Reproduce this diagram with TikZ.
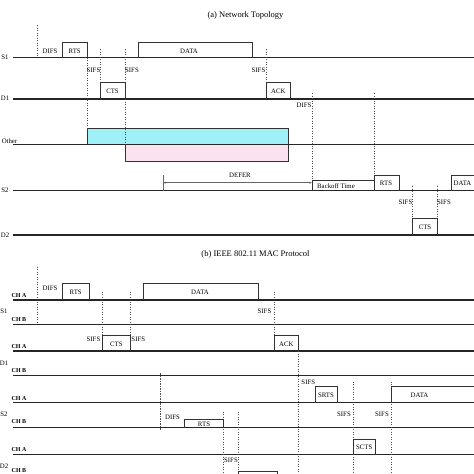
\documentclass[tikz,border=0pt]{standalone}
\usepackage{fontspec}
\setmainfont{Liberation Serif}
\usetikzlibrary{arrows.meta}
\definecolor{cyanfill}{RGB}{160,240,248}
\definecolor{pinkfill}{RGB}{250,226,240}
\tikzset{
  axisln/.style={line width=1.1pt, black!85},
  pkt/.style={draw=black!80, line width=0.6pt},
  guide/.style={draw=black!70, dash pattern=on 1.2pt off 1.3pt, line width=0.55pt},
  lbl/.style={font=\fontsize{6.8}{7}\selectfont, inner sep=0pt},
  chl/.style={font=\fontsize{6}{6}\selectfont\bfseries, inner sep=0pt},
  ttl/.style={font=\fontsize{8.5}{9}\selectfont, inner sep=0pt},
}
\begin{document}
\begin{tikzpicture}[x=1pt,y=-1pt]
\useasboundingbox (0,0) rectangle (474,474);
\clip (0,0) rectangle (474,474);

% ================= (a) =================
\node[ttl] (ta) at (245.5,15) {(a) Network Topology};

% shaded boxes of Other
\draw[pkt, fill=cyanfill] (87,144.3) rectangle (288.3,128.7);
\draw[pkt, fill=pinkfill] (125,144.3) rectangle (288.3,161.7);

% axis lines
\foreach \nm/\yy in {aS1/57.5, aD1/99, aOt/144.3, aS2/190.7, aD2/235}
  \draw[axisln] (13,\yy) coordinate (\nm) -- (474,\yy);
\node[lbl] (laS1) at (5,57.5) {S1};
\node[lbl] (laD1) at (5,98.5) {D1};
\node[lbl] (laOt) at (9.5,141) {Other};
\node[lbl] (laS2) at (5,190.5) {S2};
\node[lbl] (laD2) at (5,235) {D2};

% guides
\draw[guide] (37.5,25) -- (37.5,57.5);
\draw[guide] (87,57.5) -- (87,128.7);
\draw[guide] (100,49) -- (100,99);
\draw[guide] (125,49) -- (125,144.3);
\draw[guide] (266,49) -- (266,99);
\draw[guide] (312,93) -- (312,180.3);
\draw[guide] (374,93) -- (374,175);
\draw[guide] (412.7,186) -- (412.7,235);
\draw[guide] (437.3,186) -- (437.3,235);

% packets
\draw[pkt] (62.3,57.5) |- (87,42) -- (87,57.5);
\draw[pkt] (100,99) |- (125,82) -- (125,99);
\draw[pkt] (138.3,57.5) |- (252.7,42) -- (252.7,57.5);
\draw[pkt] (266,99) |- (290.7,82) -- (290.7,99);
\draw[pkt] (312,190.7) |- (374,180.3) -- (374,190.7);
\draw[pkt] (374,190.7) |- (399.3,175) -- (399.3,190.7);
\draw[pkt] (451,190.7) |- (476,175);
\draw[pkt] (412.7,235) |- (437.3,218.3) -- (437.3,235);

\node[lbl] (aDIFS1) at (50,51) {DIFS};
\node[lbl] (aRTS1) at (74.7,51) {RTS};
\node[lbl] (aDATA1) at (189,51) {DATA};
\node[lbl] (aSIFS1) at (93.5,70) {SIFS};
\node[lbl] (aSIFS2) at (132,70) {SIFS};
\node[lbl] (aSIFS3) at (258.5,70) {SIFS};
\node[lbl] (aCTS1) at (112.5,91) {CTS};
\node[lbl] (aACK) at (278.3,91) {ACK};
\node[lbl] (aDIFS2) at (304,105.5) {DIFS};

% DEFER
\draw[black!60, line width=0.5pt] (163,175) -- (163,190.7);
\draw[black!60, line width=0.5pt, {Stealth[length=3pt,width=2pt]}-{Stealth[length=3pt,width=2pt]}] (163,182.7) -- (312,182.7);
\node[lbl] (aDEFER) at (240,175.5) {DEFER};
\node[lbl] (aBack) at (336,186.3) {Backoff Time};
\node[lbl] (aRTS2) at (386,183) {RTS};
\node[lbl] (aDATA2) at (462.5,183) {DATA};
\node[lbl] (aSIFS4) at (405.5,202) {SIFS};
\node[lbl] (aSIFS5) at (444,202) {SIFS};
\node[lbl] (aCTS2) at (425,227) {CTS};

% ================= (b) =================
\node[ttl] (tb) at (255.5,254) {(b) IEEE 802.11 MAC Protocol};

\foreach \nm/\yy in {bS1A/300, bS1B/324.3, bD1A/351, bD1B/375.7, bS2A/402.7, bS2B/427.7, bD2A/454.3, bD2B/479}
  \draw[axisln] (13,\yy) coordinate (\nm) -- (474,\yy);
\foreach \nm/\yy/\tx in {cS1A/295.3/CH A, cS1B/320/CH B, cD1A/347/CH A, cD1B/371/CH B, cS2A/398.7/CH A, cS2B/421.5/CH B, cD2A/449.8/CH A, cD2B/471/CH B}
  \node[chl] (\nm) at (19,\yy) {\tx};
\node[lbl] (lbS1) at (4,311.7) {S1};
\node[lbl] (lbD1) at (4,363.3) {D1};
\node[lbl] (lbS2) at (4,414.3) {S2};
\node[lbl] (lbD2) at (4,466) {D2};

% guides
\draw[guide] (37.5,266.7) -- (37.5,322);
\draw[guide] (102.7,291.7) -- (102.7,351);
\draw[guide] (130,291.7) -- (130,351);
\draw[guide] (274,291.7) -- (274,351);
\draw[guide] (298.7,351) -- (298.7,474);
\draw[guide] (160,373.3) -- (160,430);
\draw[guide] (223,411.7) -- (223,474);
\draw[guide] (238.3,411.7) -- (238.3,474);
\draw[guide] (353.3,381.7) -- (353.3,474);
\draw[guide] (391.3,381.7) -- (391.3,474);

% packets
\draw[pkt] (62.3,300) |- (89,283.7) -- (89,300);
\draw[pkt] (143.7,300) |- (258.3,283.7) -- (258.3,300);
\draw[pkt] (102.7,351) |- (130,335.7) -- (130,351);
\draw[pkt] (274,351) |- (298.7,335.7) -- (298.7,351);
\draw[pkt] (184,427.7) |- (223,419.3) -- (223,427.7);
\draw[pkt] (238.3,479) |- (277.7,471.7) -- (277.7,479);
\draw[pkt] (315,402.7) |- (337,386.7) -- (337,402.7);
\draw[pkt] (391.3,402.7) |- (476,386.7);
\draw[pkt] (353.3,454.3) |- (375,439) -- (375,454.3);

\node[lbl] (bDIFS1) at (50,288) {DIFS};
\node[lbl] (bRTS1) at (75.7,292.3) {RTS};
\node[lbl] (bDATA1) at (200,292.3) {DATA};
\node[lbl] (bSIFS1) at (93.5,339) {SIFS};
\node[lbl] (bSIFS2) at (138.3,339) {SIFS};
\node[lbl] (bCTS) at (116.3,344) {CTS};
\node[lbl] (bSIFS3) at (264.5,311) {SIFS};
\node[lbl] (bACK) at (286.3,344.3) {ACK};
\node[lbl] (bDIFS2) at (172.5,417.7) {DIFS};
\node[lbl] (bRTS2) at (204,424) {RTS};
\node[lbl] (bSIFS4) at (231,460.5) {SIFS};
\node[lbl] (bSIFS5) at (308.3,382.3) {SIFS};
\node[lbl] (bSRTS) at (326,395.7) {SRTS};
\node[lbl] (bSIFS6) at (344,414.3) {SIFS};
\node[lbl] (bSIFS7) at (382,414.3) {SIFS};
\node[lbl] (bDATA2) at (419.5,395.7) {DATA};
\node[lbl] (bSCTS) at (364.3,447.3) {SCTS};
\end{tikzpicture}
\end{document}
